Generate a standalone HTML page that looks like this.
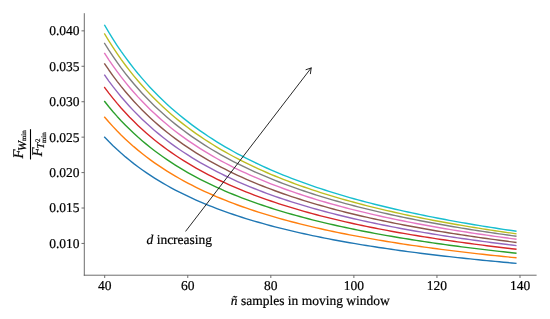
<!DOCTYPE html>
<html><head><meta charset="utf-8"><title>plot</title>
<style>
html,body{margin:0;padding:0;background:#fff;}
svg{display:block;}
text{text-rendering:geometricPrecision;font-family:"Liberation Serif","DejaVu Serif",serif;font-size:13.5px;fill:#000;stroke:#000;stroke-width:0.2px;}
.i{font-style:italic;}
</style></head><body>
<svg width="550" height="319" viewBox="0 0 550 319">
<rect width="550" height="319" fill="#fff"/>
<g>
<polyline points="104.70,137.25 108.85,141.56 113.01,145.67 117.16,149.59 121.31,153.33 125.47,156.91 129.62,160.32 133.77,163.60 137.92,166.73 142.08,169.74 146.23,172.63 150.38,175.41 154.54,178.08 158.69,180.64 162.84,183.12 167.00,185.50 171.15,187.80 175.30,190.02 179.45,192.16 183.61,194.23 187.76,196.23 191.91,198.16 196.07,200.03 200.22,201.84 204.37,203.60 208.53,205.30 212.68,206.95 216.83,208.55 220.98,210.11 225.14,211.61 229.29,213.08 233.44,214.50 237.60,215.89 241.75,217.24 245.90,218.55 250.06,219.82 254.21,221.07 258.36,222.27 262.51,223.45 266.67,224.60 270.82,225.72 274.97,226.82 279.13,227.88 283.28,228.92 287.43,229.94 291.59,230.93 295.74,231.90 299.89,232.84 304.04,233.77 308.20,234.67 312.35,235.56 316.50,236.42 320.66,237.27 324.81,238.10 328.96,238.91 333.12,239.70 337.27,240.48 341.42,241.24 345.57,241.98 349.73,242.71 353.88,243.43 358.03,244.13 362.19,244.82 366.34,245.49 370.49,246.15 374.65,246.80 378.80,247.44 382.95,248.06 387.10,248.67 391.26,249.27 395.41,249.86 399.56,250.45 403.72,251.01 407.87,251.57 412.02,252.12 416.18,252.66 420.33,253.20 424.48,253.72 428.63,254.23 432.79,254.73 436.94,255.23 441.09,255.72 445.25,256.20 449.40,256.67 453.55,257.14 457.71,257.59 461.86,258.04 466.01,258.48 470.16,258.92 474.32,259.35 478.47,259.77 482.62,260.19 486.78,260.60 490.93,261.00 495.08,261.40 499.24,261.79 503.39,262.18 507.54,262.56 511.69,262.93 515.85,263.30" fill="none" stroke="#1f77b4" stroke-width="1.4" stroke-linecap="square" stroke-linejoin="round"/>
<polyline points="104.70,117.25 108.85,122.07 113.01,126.65 117.16,131.03 121.31,135.20 125.47,139.19 129.62,143.00 133.77,146.66 137.92,150.16 142.08,153.51 146.23,156.73 150.38,159.83 154.54,162.81 158.69,165.67 162.84,168.43 167.00,171.09 171.15,173.65 175.30,176.12 179.45,178.51 183.61,180.82 187.76,183.05 191.91,185.20 196.07,187.29 200.22,189.31 204.37,191.27 208.53,193.16 212.68,195.00 216.83,196.79 220.98,198.52 225.14,200.20 229.29,201.83 233.44,203.42 237.60,204.97 241.75,206.47 245.90,207.93 250.06,209.35 254.21,210.73 258.36,212.08 262.51,213.39 266.67,214.67 270.82,215.92 274.97,217.14 279.13,218.33 283.28,219.49 287.43,220.62 291.59,221.72 295.74,222.80 299.89,223.85 304.04,224.88 308.20,225.89 312.35,226.88 316.50,227.84 320.66,228.78 324.81,229.70 328.96,230.60 333.12,231.49 337.27,232.35 341.42,233.20 345.57,234.03 349.73,234.84 353.88,235.64 358.03,236.42 362.19,237.18 366.34,237.93 370.49,238.67 374.65,239.39 378.80,240.10 382.95,240.79 387.10,241.48 391.26,242.15 395.41,242.80 399.56,243.45 403.72,244.08 407.87,244.71 412.02,245.32 416.18,245.92 420.33,246.51 424.48,247.09 428.63,247.66 432.79,248.22 436.94,248.77 441.09,249.32 445.25,249.85 449.40,250.38 453.55,250.89 457.71,251.40 461.86,251.90 466.01,252.39 470.16,252.88 474.32,253.36 478.47,253.83 482.62,254.29 486.78,254.74 490.93,255.19 495.08,255.63 499.24,256.07 503.39,256.50 507.54,256.92 511.69,257.34 515.85,257.75" fill="none" stroke="#ff7f0e" stroke-width="1.4" stroke-linecap="square" stroke-linejoin="round"/>
<polyline points="104.70,101.55 108.85,106.74 113.01,111.69 117.16,116.41 121.31,120.91 125.47,125.21 129.62,129.32 133.77,133.26 137.92,137.04 142.08,140.66 146.23,144.13 150.38,147.47 154.54,150.68 158.69,153.77 162.84,156.75 167.00,159.62 171.15,162.38 175.30,165.05 179.45,167.62 183.61,170.11 187.76,172.52 191.91,174.84 196.07,177.10 200.22,179.28 204.37,181.39 208.53,183.43 212.68,185.42 216.83,187.34 220.98,189.21 225.14,191.03 229.29,192.79 233.44,194.50 237.60,196.17 241.75,197.79 245.90,199.36 250.06,200.90 254.21,202.39 258.36,203.85 262.51,205.26 266.67,206.65 270.82,207.99 274.97,209.31 279.13,210.59 283.28,211.84 287.43,213.06 291.59,214.25 295.74,215.42 299.89,216.55 304.04,217.67 308.20,218.75 312.35,219.82 316.50,220.85 320.66,221.87 324.81,222.87 328.96,223.84 333.12,224.79 337.27,225.73 341.42,226.64 345.57,227.54 349.73,228.41 353.88,229.27 358.03,230.12 362.19,230.94 366.34,231.75 370.49,232.55 374.65,233.33 378.80,234.09 382.95,234.84 387.10,235.58 391.26,236.30 395.41,237.01 399.56,237.71 403.72,238.39 407.87,239.06 412.02,239.72 416.18,240.37 420.33,241.01 424.48,241.64 428.63,242.25 432.79,242.86 436.94,243.46 441.09,244.04 445.25,244.62 449.40,245.19 453.55,245.74 457.71,246.29 461.86,246.83 466.01,247.37 470.16,247.89 474.32,248.40 478.47,248.91 482.62,249.41 486.78,249.90 490.93,250.39 495.08,250.87 499.24,251.34 503.39,251.80 507.54,252.26 511.69,252.71 515.85,253.15" fill="none" stroke="#2ca02c" stroke-width="1.4" stroke-linecap="square" stroke-linejoin="round"/>
<polyline points="104.70,87.55 108.85,93.09 113.01,98.36 117.16,103.39 121.31,108.19 125.47,112.77 129.62,117.16 133.77,121.36 137.92,125.38 142.08,129.24 146.23,132.95 150.38,136.51 154.54,139.93 158.69,143.23 162.84,146.40 167.00,149.45 171.15,152.40 175.30,155.24 179.45,157.99 183.61,160.64 187.76,163.21 191.91,165.69 196.07,168.09 200.22,170.41 204.37,172.66 208.53,174.84 212.68,176.96 216.83,179.01 220.98,181.00 225.14,182.94 229.29,184.82 233.44,186.64 237.60,188.42 241.75,190.14 245.90,191.82 250.06,193.46 254.21,195.05 258.36,196.60 262.51,198.11 266.67,199.58 270.82,201.02 274.97,202.42 279.13,203.79 283.28,205.12 287.43,206.42 291.59,207.69 295.74,208.93 299.89,210.15 304.04,211.33 308.20,212.49 312.35,213.62 316.50,214.73 320.66,215.81 324.81,216.87 328.96,217.91 333.12,218.93 337.27,219.92 341.42,220.90 345.57,221.85 349.73,222.79 353.88,223.70 358.03,224.60 362.19,225.48 366.34,226.34 370.49,227.19 374.65,228.02 378.80,228.84 382.95,229.64 387.10,230.42 391.26,231.19 395.41,231.95 399.56,232.69 403.72,233.42 407.87,234.14 412.02,234.84 416.18,235.53 420.33,236.21 424.48,236.88 428.63,237.54 432.79,238.18 436.94,238.82 441.09,239.44 445.25,240.06 449.40,240.66 453.55,241.26 457.71,241.84 461.86,242.42 466.01,242.99 470.16,243.54 474.32,244.09 478.47,244.63 482.62,245.17 486.78,245.69 490.93,246.21 495.08,246.72 499.24,247.22 503.39,247.71 507.54,248.20 511.69,248.68 515.85,249.15" fill="none" stroke="#d62728" stroke-width="1.4" stroke-linecap="square" stroke-linejoin="round"/>
<polyline points="104.70,75.25 108.85,81.08 113.01,86.64 117.16,91.93 121.31,96.99 125.47,101.82 129.62,106.44 133.77,110.87 137.92,115.11 142.08,119.17 146.23,123.08 150.38,126.83 154.54,130.44 158.69,133.91 162.84,137.25 167.00,140.47 171.15,143.57 175.30,146.57 179.45,149.46 183.61,152.26 187.76,154.96 191.91,157.57 196.07,160.10 200.22,162.55 204.37,164.92 208.53,167.22 212.68,169.45 216.83,171.62 220.98,173.71 225.14,175.75 229.29,177.73 233.44,179.66 237.60,181.53 241.75,183.35 245.90,185.12 250.06,186.84 254.21,188.52 258.36,190.15 262.51,191.75 266.67,193.30 270.82,194.81 274.97,196.29 279.13,197.73 283.28,199.13 287.43,200.50 291.59,201.84 295.74,203.15 299.89,204.43 304.04,205.68 308.20,206.90 312.35,208.09 316.50,209.26 320.66,210.40 324.81,211.52 328.96,212.62 333.12,213.69 337.27,214.74 341.42,215.76 345.57,216.77 349.73,217.75 353.88,218.72 358.03,219.67 362.19,220.60 366.34,221.51 370.49,222.40 374.65,223.27 378.80,224.13 382.95,224.98 387.10,225.80 391.26,226.62 395.41,227.41 399.56,228.20 403.72,228.97 407.87,229.72 412.02,230.46 416.18,231.19 420.33,231.91 424.48,232.61 428.63,233.31 432.79,233.99 436.94,234.66 441.09,235.32 445.25,235.96 449.40,236.60 453.55,237.23 457.71,237.85 461.86,238.45 466.01,239.05 470.16,239.64 474.32,240.22 478.47,240.79 482.62,241.35 486.78,241.90 490.93,242.45 495.08,242.98 499.24,243.51 503.39,244.03 507.54,244.55 511.69,245.05 515.85,245.55" fill="none" stroke="#9467bd" stroke-width="1.4" stroke-linecap="square" stroke-linejoin="round"/>
<polyline points="104.70,63.85 108.85,69.97 113.01,75.79 117.16,81.35 121.31,86.65 125.47,91.71 129.62,96.56 133.77,101.20 137.92,105.64 142.08,109.90 146.23,114.00 150.38,117.93 154.54,121.71 158.69,125.35 162.84,128.85 167.00,132.23 171.15,135.49 175.30,138.63 179.45,141.66 183.61,144.59 187.76,147.42 191.91,150.16 196.07,152.81 200.22,155.38 204.37,157.87 208.53,160.28 212.68,162.61 216.83,164.88 220.98,167.08 225.14,169.22 229.29,171.29 233.44,173.31 237.60,175.27 241.75,177.18 245.90,179.03 250.06,180.84 254.21,182.60 258.36,184.31 262.51,185.98 266.67,187.60 270.82,189.19 274.97,190.74 279.13,192.25 283.28,193.72 287.43,195.16 291.59,196.56 295.74,197.93 299.89,199.27 304.04,200.58 308.20,201.86 312.35,203.11 316.50,204.33 320.66,205.53 324.81,206.70 328.96,207.85 333.12,208.97 337.27,210.07 341.42,211.14 345.57,212.20 349.73,213.23 353.88,214.24 358.03,215.23 362.19,216.21 366.34,217.16 370.49,218.10 374.65,219.01 378.80,219.91 382.95,220.80 387.10,221.66 391.26,222.52 395.41,223.35 399.56,224.17 403.72,224.98 407.87,225.77 412.02,226.55 416.18,227.31 420.33,228.06 424.48,228.80 428.63,229.53 432.79,230.24 436.94,230.94 441.09,231.63 445.25,232.31 449.40,232.98 453.55,233.63 457.71,234.28 461.86,234.92 466.01,235.54 470.16,236.16 474.32,236.76 478.47,237.36 482.62,237.95 486.78,238.53 490.93,239.10 495.08,239.66 499.24,240.21 503.39,240.76 507.54,241.30 511.69,241.83 515.85,242.35" fill="none" stroke="#8c564b" stroke-width="1.4" stroke-linecap="square" stroke-linejoin="round"/>
<polyline points="104.70,53.45 108.85,59.81 113.01,65.86 117.16,71.63 121.31,77.14 125.47,82.41 129.62,87.44 133.77,92.27 137.92,96.89 142.08,101.32 146.23,105.57 150.38,109.66 154.54,113.60 158.69,117.38 162.84,121.02 167.00,124.53 171.15,127.92 175.30,131.19 179.45,134.34 183.61,137.39 187.76,140.33 191.91,143.18 196.07,145.94 200.22,148.61 204.37,151.20 208.53,153.70 212.68,156.13 216.83,158.49 220.98,160.78 225.14,163.00 229.29,165.16 233.44,167.26 237.60,169.30 241.75,171.29 245.90,173.22 250.06,175.10 254.21,176.93 258.36,178.71 262.51,180.45 266.67,182.14 270.82,183.79 274.97,185.40 279.13,186.97 283.28,188.50 287.43,190.00 291.59,191.46 295.74,192.89 299.89,194.28 304.04,195.64 308.20,196.98 312.35,198.28 316.50,199.55 320.66,200.80 324.81,202.02 328.96,203.21 333.12,204.38 337.27,205.52 341.42,206.64 345.57,207.74 349.73,208.82 353.88,209.87 358.03,210.90 362.19,211.92 366.34,212.91 370.49,213.88 374.65,214.84 378.80,215.78 382.95,216.70 387.10,217.60 391.26,218.49 395.41,219.36 399.56,220.21 403.72,221.05 407.87,221.87 412.02,222.68 416.18,223.48 420.33,224.26 424.48,225.03 428.63,225.79 432.79,226.53 436.94,227.26 441.09,227.98 445.25,228.69 449.40,229.38 453.55,230.07 457.71,230.74 461.86,231.40 466.01,232.06 470.16,232.70 474.32,233.33 478.47,233.95 482.62,234.56 486.78,235.17 490.93,235.76 495.08,236.35 499.24,236.93 503.39,237.49 507.54,238.05 511.69,238.61 515.85,239.15" fill="none" stroke="#e377c2" stroke-width="1.4" stroke-linecap="square" stroke-linejoin="round"/>
<polyline points="104.70,43.55 108.85,50.14 113.01,56.41 117.16,62.39 121.31,68.11 125.47,73.56 129.62,78.78 133.77,83.78 137.92,88.57 142.08,93.17 146.23,97.58 150.38,101.82 154.54,105.90 158.69,109.82 162.84,113.60 167.00,117.24 171.15,120.75 175.30,124.13 179.45,127.40 183.61,130.56 187.76,133.62 191.91,136.57 196.07,139.43 200.22,142.20 204.37,144.88 208.53,147.48 212.68,150.01 216.83,152.45 220.98,154.83 225.14,157.13 229.29,159.37 233.44,161.55 237.60,163.66 241.75,165.72 245.90,167.73 250.06,169.68 254.21,171.57 258.36,173.42 262.51,175.22 266.67,176.98 270.82,178.69 274.97,180.36 279.13,181.99 283.28,183.58 287.43,185.14 291.59,186.65 295.74,188.13 299.89,189.58 304.04,190.99 308.20,192.38 312.35,193.73 316.50,195.05 320.66,196.34 324.81,197.61 328.96,198.85 333.12,200.06 337.27,201.24 341.42,202.41 345.57,203.55 349.73,204.66 353.88,205.76 358.03,206.83 362.19,207.88 366.34,208.91 370.49,209.92 374.65,210.91 378.80,211.89 382.95,212.84 387.10,213.78 391.26,214.70 395.41,215.60 399.56,216.49 403.72,217.36 407.87,218.22 412.02,219.06 416.18,219.88 420.33,220.69 424.48,221.49 428.63,222.28 432.79,223.05 436.94,223.81 441.09,224.55 445.25,225.29 449.40,226.01 453.55,226.72 457.71,227.42 461.86,228.11 466.01,228.78 470.16,229.45 474.32,230.11 478.47,230.75 482.62,231.39 486.78,232.02 490.93,232.63 495.08,233.24 499.24,233.84 503.39,234.43 507.54,235.01 511.69,235.59 515.85,236.15" fill="none" stroke="#7f7f7f" stroke-width="1.4" stroke-linecap="square" stroke-linejoin="round"/>
<polyline points="104.70,34.05 108.85,40.89 113.01,47.41 117.16,53.62 121.31,59.55 125.47,65.22 129.62,70.64 133.77,75.82 137.92,80.80 142.08,85.57 146.23,90.15 150.38,94.55 154.54,98.78 158.69,102.85 162.84,106.76 167.00,110.54 171.15,114.18 175.30,117.70 179.45,121.09 183.61,124.37 187.76,127.54 191.91,130.60 196.07,133.57 200.22,136.44 204.37,139.22 208.53,141.92 212.68,144.53 216.83,147.07 220.98,149.53 225.14,151.92 229.29,154.24 233.44,156.50 237.60,158.69 241.75,160.82 245.90,162.90 250.06,164.92 254.21,166.89 258.36,168.80 262.51,170.67 266.67,172.49 270.82,174.27 274.97,176.00 279.13,177.68 283.28,179.33 287.43,180.94 291.59,182.51 295.74,184.05 299.89,185.54 304.04,187.01 308.20,188.44 312.35,189.84 316.50,191.21 320.66,192.55 324.81,193.86 328.96,195.14 333.12,196.40 337.27,197.63 341.42,198.83 345.57,200.01 349.73,201.17 353.88,202.30 358.03,203.41 362.19,204.50 366.34,205.56 370.49,206.61 374.65,207.64 378.80,208.64 382.95,209.63 387.10,210.60 391.26,211.55 395.41,212.49 399.56,213.41 403.72,214.31 407.87,215.20 412.02,216.07 416.18,216.92 420.33,217.76 424.48,218.59 428.63,219.40 432.79,220.20 436.94,220.98 441.09,221.75 445.25,222.51 449.40,223.26 453.55,224.00 457.71,224.72 461.86,225.43 466.01,226.13 470.16,226.82 474.32,227.50 478.47,228.17 482.62,228.83 486.78,229.47 490.93,230.11 495.08,230.74 499.24,231.36 503.39,231.97 507.54,232.57 511.69,233.17 515.85,233.75" fill="none" stroke="#bcbd22" stroke-width="1.4" stroke-linecap="square" stroke-linejoin="round"/>
<polyline points="104.70,25.35 108.85,32.40 113.01,39.11 117.16,45.51 121.31,51.62 125.47,57.45 129.62,63.04 133.77,68.38 137.92,73.51 142.08,78.42 146.23,83.14 150.38,87.67 154.54,92.03 158.69,96.22 162.84,100.26 167.00,104.15 171.15,107.90 175.30,111.53 179.45,115.02 183.61,118.40 187.76,121.66 191.91,124.82 196.07,127.88 200.22,130.84 204.37,133.70 208.53,136.48 212.68,139.18 216.83,141.79 220.98,144.33 225.14,146.79 229.29,149.18 233.44,151.51 237.60,153.77 241.75,155.97 245.90,158.11 250.06,160.19 254.21,162.22 258.36,164.19 262.51,166.12 266.67,167.99 270.82,169.82 274.97,171.61 279.13,173.35 283.28,175.05 287.43,176.70 291.59,178.32 295.74,179.90 299.89,181.45 304.04,182.96 308.20,184.43 312.35,185.88 316.50,187.29 320.66,188.67 324.81,190.02 328.96,191.34 333.12,192.64 337.27,193.90 341.42,195.14 345.57,196.36 349.73,197.55 353.88,198.72 358.03,199.86 362.19,200.99 366.34,202.09 370.49,203.16 374.65,204.22 378.80,205.26 382.95,206.28 387.10,207.28 391.26,208.26 395.41,209.23 399.56,210.17 403.72,211.10 407.87,212.02 412.02,212.91 416.18,213.80 420.33,214.66 424.48,215.51 428.63,216.35 432.79,217.17 436.94,217.98 441.09,218.78 445.25,219.56 449.40,220.33 453.55,221.09 457.71,221.84 461.86,222.57 466.01,223.29 470.16,224.00 474.32,224.70 478.47,225.39 482.62,226.07 486.78,226.74 490.93,227.40 495.08,228.05 499.24,228.69 503.39,229.32 507.54,229.94 511.69,230.55 515.85,231.15" fill="none" stroke="#17becf" stroke-width="1.4" stroke-linecap="square" stroke-linejoin="round"/>
</g>
<g stroke="#606060" stroke-width="0.92" fill="none">
<line x1="84.3" y1="13.2" x2="84.3" y2="275.71"/>
<line x1="83.8" y1="275.21" x2="536.6" y2="275.21"/>
<line x1="104.70" y1="275.21" x2="104.70" y2="278.01"/>
<line x1="187.76" y1="275.21" x2="187.76" y2="278.01"/>
<line x1="270.82" y1="275.21" x2="270.82" y2="278.01"/>
<line x1="353.88" y1="275.21" x2="353.88" y2="278.01"/>
<line x1="436.94" y1="275.21" x2="436.94" y2="278.01"/>
<line x1="520.00" y1="275.21" x2="520.00" y2="278.01"/>
<line x1="81.5" y1="243.45" x2="84.3" y2="243.45"/>
<line x1="81.5" y1="208.02" x2="84.3" y2="208.02"/>
<line x1="81.5" y1="172.58" x2="84.3" y2="172.58"/>
<line x1="81.5" y1="137.15" x2="84.3" y2="137.15"/>
<line x1="81.5" y1="101.72" x2="84.3" y2="101.72"/>
<line x1="81.5" y1="66.28" x2="84.3" y2="66.28"/>
<line x1="81.5" y1="30.85" x2="84.3" y2="30.85"/>
</g>
<text x="104.70" y="289.6" text-anchor="middle">40</text>
<text x="187.76" y="289.6" text-anchor="middle">60</text>
<text x="270.82" y="289.6" text-anchor="middle">80</text>
<text x="353.88" y="289.6" text-anchor="middle">100</text>
<text x="436.94" y="289.6" text-anchor="middle">120</text>
<text x="520.00" y="289.6" text-anchor="middle">140</text>
<text x="79.6" y="247.85" text-anchor="end">0.010</text>
<text x="79.6" y="212.42" text-anchor="end">0.015</text>
<text x="79.6" y="176.98" text-anchor="end">0.020</text>
<text x="79.6" y="141.55" text-anchor="end">0.025</text>
<text x="79.6" y="106.12" text-anchor="end">0.030</text>
<text x="79.6" y="70.68" text-anchor="end">0.035</text>
<text x="79.6" y="35.25" text-anchor="end">0.040</text>
<text x="310.35" y="304.6" text-anchor="middle"><tspan class="i">ñ</tspan> samples in moving window</text>
<text x="146.5" y="243.9"><tspan class="i">d</tspan> increasing</text>
<g stroke="#111" stroke-width="0.9" fill="none" stroke-linecap="round" stroke-linejoin="round">
<line x1="185.8" y1="231.1" x2="311.2" y2="67.9"/>
<polyline points="306.0,69.7 311.2,67.9 310.4,73.7"/>
</g>
<g transform="translate(30.5,159.5) rotate(-90)">
<line x1="0" y1="0" x2="30.3" y2="0" stroke="#000" stroke-width="1.1"/>
<text class="i" style="font-size:14.8px" x="0.9" y="-7.4">F</text>
<text class="i" style="font-size:12px" x="8.6" y="-4.9">W</text>
<text style="font-size:6.9px" x="18.4" y="-4.4">min</text>
<text class="i" style="font-size:14.8px" x="2.9" y="11.3">F</text>
<text class="i" style="font-size:10.6px" x="10.8" y="13.3">T</text>
<text style="font-size:6.9px" x="17.5" y="9.8">2</text>
<text style="font-size:6.9px" x="16.4" y="15.8">min</text>
</g>
</svg></body></html>
